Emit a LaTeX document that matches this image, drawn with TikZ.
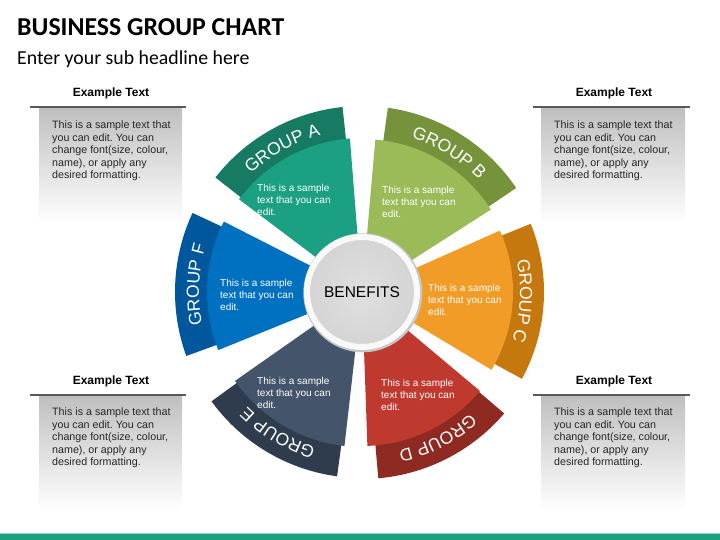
\documentclass[tikz,border=0pt]{standalone}
\usepackage{fontspec}
\setmainfont{Liberation Sans}
\newfontfamily\headfont{Carlito}
\usetikzlibrary{positioning,calc,decorations.text}
\frenchspacing

\definecolor{bandA}{RGB}{23,122,99}
\definecolor{secA}{RGB}{28,160,131}
\definecolor{bandB}{RGB}{118,147,60}
\definecolor{secB}{RGB}{155,187,89}
\definecolor{bandC}{RGB}{197,120,14}
\definecolor{secC}{RGB}{241,156,39}
\definecolor{bandD}{RGB}{142,42,34}
\definecolor{secD}{RGB}{192,57,47}
\definecolor{bandE}{RGB}{47,60,78}
\definecolor{secE}{RGB}{68,84,106}
\definecolor{bandF}{RGB}{0,87,155}
\definecolor{secF}{RGB}{0,112,192}
\definecolor{footbar}{RGB}{31,160,128}

\newcommand\lblfont{\fontsize{17.5}{17.5}\selectfont}

\begin{document}
\begin{tikzpicture}[x=1pt,y=1pt,
    sectext/.style={anchor=north west, inner sep=0pt, align=left, text=white,
      font=\fontsize{10}{11.8}\selectfont},
    boxtext/.style={anchor=north west, inner sep=0pt, align=left, text=black!85,
      font=\fontsize{10.7}{12.4}\selectfont},
    exhead/.style={inner sep=0pt, font=\bfseries\fontsize{12}{14}\selectfont},
    exline/.style={draw=black!65, line width=2.2pt},
    exbox/.style={top color=gray!50, bottom color=white},
    grplabel/.style={decorate, decoration={text along path, text align=center,
      text color=white, text={|\lblfont|#1}}},
    hub/.style={circle, minimum size=110pt, draw=gray!5, line width=6pt,
      inner color=gray!24, outer color=gray!34, font=\fontsize{15.5}{18}\selectfont}]

  \fill[white] (0,0) rectangle (720,540);
  \useasboundingbox (0,0) rectangle (720,540);

  % headline
  \node[anchor=base west, inner sep=0pt, font=\headfont\bfseries\fontsize{25.8}{30}\selectfont]
    (title) at (17,504) {BUSINESS GROUP CHART};
  \node[below=29pt of title.base west, anchor=base west, inner sep=0pt,
    font=\headfont\fontsize{19.8}{24}\selectfont] (subtitle) {Enter your sub headline here};

  % side boxes
  \shade[exbox] (39,432) rectangle (182,317);
  \shade[exbox] (541,432) rectangle (685,317);
  \shade[exbox] (39,144) rectangle (182,30);
  \shade[exbox] (541,144) rectangle (685,30);
  \draw[exline] (30,433) -- (186,433);
  \draw[exline] (533,433) -- (690,433);
  \draw[exline] (30,145) -- (186,145);
  \draw[exline] (533,145) -- (690,145);
  \node[exhead] (headTL) at (111,447) {Example Text};
  \node[exhead] (headTR) at (614,447) {Example Text};
  \node[exhead] (headBL) at (111,159) {Example Text};
  \node[exhead] (headBR) at (614,159) {Example Text};
  \node[boxtext] (textTL) at (52,419) {This is a sample text that\\you can edit. You can\\change font(size, colour,\\name), or apply any\\desired formatting.};
  \node[boxtext] (textTR) at (554,419) {This is a sample text that\\you can edit. You can\\change font(size, colour,\\name), or apply any\\desired formatting.};
  \node[boxtext] (textBL) at (52,132) {This is a sample text that\\you can edit. You can\\change font(size, colour,\\name), or apply any\\desired formatting.};
  \node[boxtext] (textBR) at (554,132) {This is a sample text that\\you can edit. You can\\change font(size, colour,\\name), or apply any\\desired formatting.};

  \coordinate (c) at (362,248);

  % outer bands
  \fill[bandA] ($(c)+(142:120)$) -- ($(c)+(142:186)$) arc[start angle=142, end angle=96, radius=186] -- ($(c)+(96:120)$) -- cycle;
  \fill[bandB] ($(c)+(82:120)$) -- ($(c)+(82:186)$) arc[start angle=82, end angle=34, radius=186] -- ($(c)+(34:120)$) -- cycle;
  \fill[bandC] ($(c)+(22:120)$) -- ($(c)+(22:182)$) arc[start angle=22, end angle=-28.5, radius=182] -- ($(c)+(-28.5:120)$) -- cycle;
  \fill[bandD] ($(c)+(-40.5:120)$) -- ($(c)+(-40.5:187)$) arc[start angle=-40.5, end angle=-85, radius=187] -- ($(c)+(-85:120)$) -- cycle;
  \fill[bandE] ($(c)+(-97.7:120)$) -- ($(c)+(-97.7:186)$) arc[start angle=-97.7, end angle=-144, radius=186] -- ($(c)+(-144:120)$) -- cycle;
  \fill[bandF] ($(c)+(200:120)$) -- ($(c)+(200:187)$) arc[start angle=200, end angle=155, radius=187] -- ($(c)+(155:120)$) -- cycle;

  % inner sectors
  \fill[secA] (c) -- ($(c)+(143:154)$) arc[start angle=143, end angle=94.5, radius=154] -- cycle;
  \fill[secB] (c) -- ($(c)+(85:153)$) arc[start angle=85, end angle=32.6, radius=153] -- cycle;
  \fill[secC] (c) -- ($(c)+(24:151)$) arc[start angle=24, end angle=-31, radius=151] -- cycle;
  \fill[secD] (c) -- ($(c)+(-40:154)$) arc[start angle=-40, end angle=-88, radius=154] -- cycle;
  \fill[secE] (c) -- ($(c)+(-96.5:155)$) arc[start angle=-96.5, end angle=-145, radius=155] -- cycle;
  \fill[secF] (c) -- ($(c)+(202:155)$) arc[start angle=202, end angle=153, radius=155] -- cycle;

  % group labels
  \path[grplabel={GROUP A}] ($(c)+(142:162)$) arc[start angle=142, end angle=96, radius=162];
  \path[grplabel={GROUP B}] ($(c)+(82:162)$) arc[start angle=82, end angle=34, radius=162];
  \path[grplabel={GROUP C}] ($(c)+(22:158)$) arc[start angle=22, end angle=-28.5, radius=158];
  \path[grplabel={GROUP D}] ($(c)+(-40.5:163)$) arc[start angle=-40.5, end angle=-85, radius=163];
  \path[grplabel={GROUP E}] ($(c)+(-97.7:162)$) arc[start angle=-97.7, end angle=-144, radius=162];
  \path[grplabel={GROUP F}] ($(c)+(200:163)$) arc[start angle=200, end angle=155, radius=163];

  % sector texts
  \node[sectext] (txtA) at (257,356) {This is a sample\\text that you can\\edit.};
  \node[sectext] (txtB) at (382,354) {This is a sample\\text that you can\\edit.};
  \node[sectext] (txtC) at (428,256) {This is a sample\\text that you can\\edit.};
  \node[sectext] (txtD) at (381,161) {This is a sample\\text that you can\\edit.};
  \node[sectext] (txtE) at (257,163) {This is a sample\\text that you can\\edit.};
  \node[sectext] (txtF) at (220,261) {This is a sample\\text that you can\\edit.};

  % centre
  \fill[gray!45] ($(c)+(0.8,-0.8)$) circle (59.5);
  \node[hub] (hub) at (c) {BENEFITS};

  % footer
  \fill[footbar!45] (0,6) rectangle (720,7);
  \fill[footbar] (0,0) rectangle (720,6);
\end{tikzpicture}
\end{document}
